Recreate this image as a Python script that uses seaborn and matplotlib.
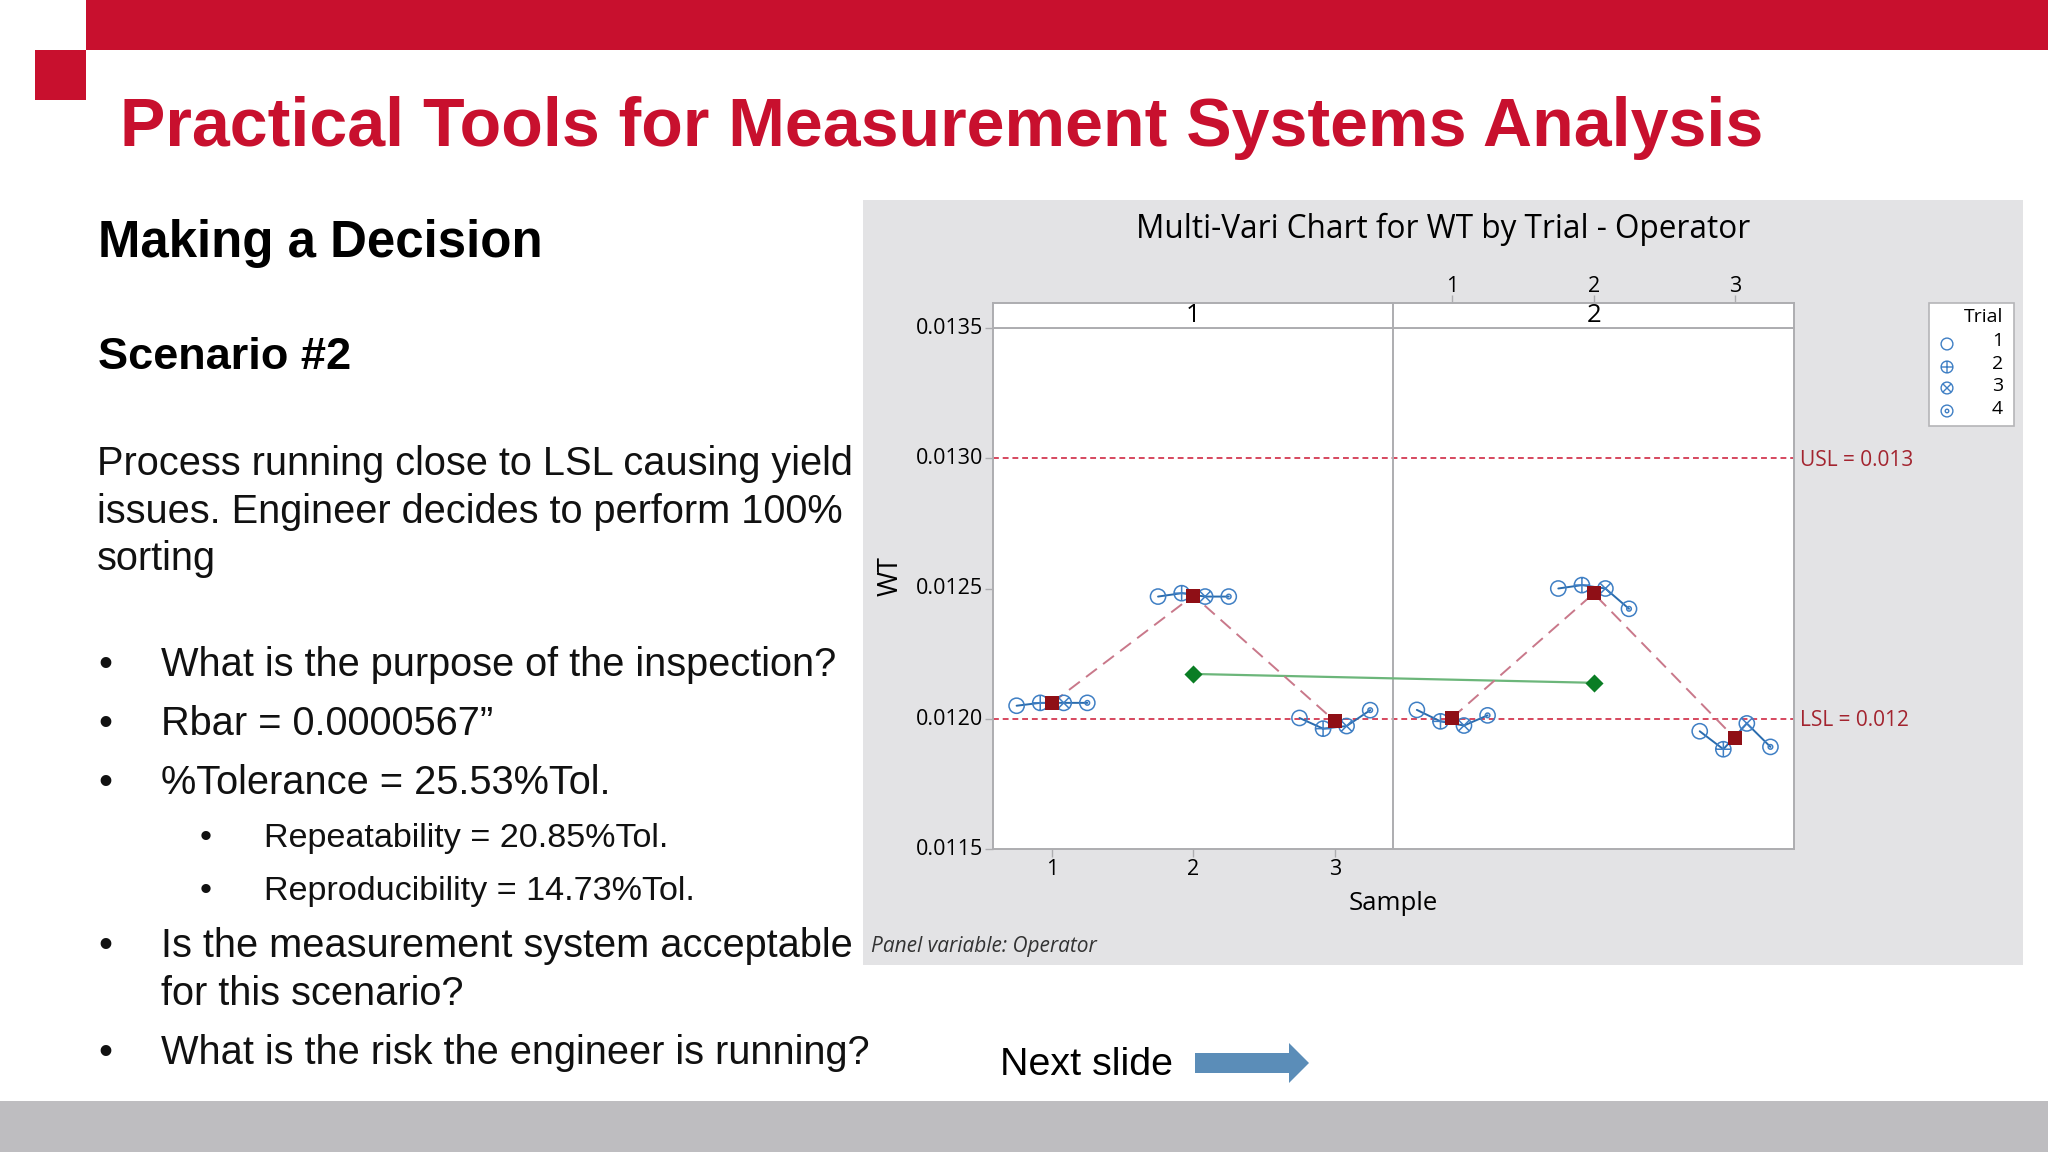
import numpy as np
import pandas as pd
import matplotlib
matplotlib.use("Agg")
import matplotlib.pyplot as plt
from matplotlib.patches import Rectangle, FancyArrow
from matplotlib.path import Path
from matplotlib.transforms import ScaledTranslation
import seaborn as sns

# ── Datos ─────────────────────────────────────────────────────────────────────
samples = [1, 2, 3]
trials = [1, 2, 3, 4]
operators = [1, 2]

# WT por operador -> muestra -> trial
op1_s1 = [0.012050, 0.012061, 0.012061, 0.012061]
op1_s2 = [0.012469, 0.012482, 0.012469, 0.012469]
op1_s3 = [0.012003, 0.011962, 0.011972, 0.012033]
op2_s1 = [0.012034, 0.011990, 0.011974, 0.012013]
op2_s2 = [0.012500, 0.012513, 0.012500, 0.012422]
op2_s3 = [0.011952, 0.011883, 0.011982, 0.011892]

op1_means = [0.012061, 0.012473, 0.011991]
op2_means = [0.012004, 0.012481, 0.011925]
operator_means = [0.012172, 0.012138]

usl = 0.013
lsl = 0.012
y_ticks = [0.0115, 0.0120, 0.0125, 0.0130, 0.0135]

# posiciones en el eje continuo
PANEL_GAP = 2.83
TRIAL_OFFSET = [-0.25, -0.083, 0.083, 0.25]
X_MIN, X_MAX = 0.581, 6.243

W, H = 2048, 1152
RED = "#c8102e"
BLUE = "#3f7fc4"
CHART_BG = "#e3e3e5"
EDGE = "#adadb0"
SPEC = "#d6475e"

sns.set_theme(style="white")
SLIDE_FONT = "Liberation Sans"
CHART_FONT = "Open Sans"
plt.rcParams["font.family"] = [SLIDE_FONT, "DejaVu Sans"]

# ── Tablas ────────────────────────────────────────────────────────────────────
rows = []
all_trials = [[op1_s1, op1_s2, op1_s3], [op2_s1, op2_s2, op2_s3]]
for o, op_vals in zip(operators, all_trials):
    for s, vals in zip(samples, op_vals):
        for t, off, v in zip(trials, TRIAL_OFFSET, vals):
            rows.append({"group": f"{o}-{s}", "Operator": o, "Sample": s, "Trial": t,
                         "pos": s + (o - 1) * PANEL_GAP + off, "WT": v})
df = pd.DataFrame(rows)

df_means = pd.DataFrame({
    "Operator": [1, 1, 1, 2, 2, 2],
    "pos": [s + (o - 1) * PANEL_GAP for o in operators for s in samples],
    "WT": op1_means + op2_means,
})
df_ops = pd.DataFrame({
    "pos": [2 + (o - 1) * PANEL_GAP for o in operators],
    "WT": operator_means,
})


# marcadores de Minitab: círculo con un símbolo dentro
def circle_with(verts=None, codes=None, inner=None):
    parts = [Path.unit_circle()]
    if verts is not None:
        parts.append(Path(verts, codes))
    if inner is not None:
        c = Path.unit_circle()
        parts.append(Path(c.vertices * inner, c.codes))
    return Path.make_compound_path(*parts)


cross_codes = [Path.MOVETO, Path.LINETO, Path.MOVETO, Path.LINETO]
trial_markers = {
    1: circle_with(),
    2: circle_with([[-1, 0], [1, 0], [0, -1], [0, 1]], cross_codes),
    3: circle_with([[-0.7, -0.7], [0.7, 0.7], [-0.7, 0.7], [0.7, -0.7]], cross_codes),
    4: circle_with(inner=0.3),
}

fig = plt.figure(figsize=(W / 100, H / 100), dpi=100, facecolor="white")


def px_axes(left, top, right, bottom, **kw):
    return fig.add_axes([left / W, 1 - bottom / H, (right - left) / W, (bottom - top) / H], **kw)


# ── Lámina ────────────────────────────────────────────────────────────────────
bg = px_axes(0, 0, W, H)
bg.set_xlim(0, W)
bg.set_ylim(H, 0)
bg.axis("off")
bg.add_patch(Rectangle((86, 0), W - 86, 50, color=RED, lw=0))
bg.add_patch(Rectangle((35, 50), 51, 50, color=RED, lw=0))
bg.add_patch(Rectangle((0, 1101), W, 51, color="#bebdc0", lw=0))
bg.add_patch(Rectangle((863, 200), 1160, 765, color=CHART_BG, lw=0))

bg.text(120, 146, "Practical Tools for Measurement Systems Analysis", color=RED,
        fontsize=49.1, fontweight="bold", va="baseline")
bg.text(98, 257, "Making a Decision", color="black", fontsize=36.7, fontweight="bold", va="baseline")
bg.text(98, 369, "Scenario #2", color="black", fontsize=32.5, fontweight="bold", va="baseline")

BODY = "#111111"
BODY_SIZE = 28.6
for txt, y in [("Process running close to LSL causing yield", 475),
               ("issues. Engineer decides to perform 100%", 523),
               ("sorting", 570)]:
    bg.text(97, y, txt, color=BODY, fontsize=BODY_SIZE, va="baseline")

for txt, y, bullet in [("What is the purpose of the inspection?", 676, True),
                       ("Rbar = 0.0000567”", 735, True),
                       ("%Tolerance = 25.53%Tol.", 794, True),
                       ("Is the measurement system acceptable", 957, True),
                       ("for this scenario?", 1005, False),
                       ("What is the risk the engineer is running?", 1064, True)]:
    if bullet:
        bg.text(98, y, "•", color=BODY, fontsize=BODY_SIZE, va="baseline")
    bg.text(161, y, txt, color=BODY, fontsize=BODY_SIZE, va="baseline")

for txt, y in [("Repeatability = 20.85%Tol.", 847), ("Reproducibility = 14.73%Tol.", 900)]:
    bg.text(200, y, "•", color=BODY, fontsize=24.6, va="baseline")
    bg.text(264, y, txt, color=BODY, fontsize=24.6, va="baseline")

bg.text(1000, 1075, "Next slide", color="black", fontsize=28.4, va="baseline")
bg.add_patch(FancyArrow(1195, 1063, 114, 0, width=20, head_width=40, head_length=20,
                        length_includes_head=True, color="#5b8db8", lw=0))

# textos del gráfico
chart_text = dict(family=CHART_FONT, color="#000000")
bg.text(1443, 229, "Multi-Vari Chart for WT by Trial - Operator", fontsize=22.7,
        ha="center", va="center", **chart_text)
bg.text(1393, 904, "Sample", fontsize=18.5, ha="center", va="center", **chart_text)
bg.text(891, 576, "WT", fontsize=19.5, rotation=90, ha="center", va="center", **chart_text)
bg.text(871, 952, "Panel variable: Operator", fontsize=15, style="italic", va="baseline",
        family=CHART_FONT, color="#333333")
bg.text(1800, 460, "USL = 0.013", fontsize=15, color="#a3242f", family=CHART_FONT, va="center")
bg.text(1800, 720, "LSL = 0.012", fontsize=15, color="#a3242f", family=CHART_FONT, va="center")

# leyenda
bg.add_patch(Rectangle((1929, 303), 85, 123, facecolor="white", edgecolor="#b5b5b8", lw=1.2))
bg.text(2003, 317, "Trial", fontsize=14, ha="right", va="center", **chart_text)
df_legend = pd.DataFrame({"Trial": trials, "y": [344, 367, 388, 411]})
df_legend["x"] = 1947
sns.scatterplot(data=df_legend, x="x", y="y", style="Trial", markers=trial_markers, s=72,
                color=BLUE, linewidth=1, legend=False, ax=bg, zorder=5)
bg.collections[-1].set_facecolor("none")
bg.collections[-1].set_edgecolor(BLUE)
for t, y in zip(df_legend["Trial"], [341, 364, 386, 409]):
    bg.text(2003, y, str(t), fontsize=14, ha="right", va="center", **chart_text)
bg.set_xlim(0, W)
bg.set_ylim(H, 0)
bg.set_xlabel("")
bg.set_ylabel("")

# ── Gráfico multi-vari ────────────────────────────────────────────────────────
ax = px_axes(992.7, 328, 1793.5, 849, facecolor="white")

ax.axhline(usl, color=SPEC, lw=1.4, ls=(0, (3, 2)), zorder=1)
ax.axhline(lsl, color=SPEC, lw=1.4, ls=(0, (3, 2)), zorder=1)
ax.axvline(1 + 2.413, color=EDGE, lw=1.4, zorder=1)

sns.lineplot(data=df_ops, x="pos", y="WT", color="#6cb67a", lw=1.6, ax=ax, zorder=2)
sns.lineplot(data=df_means, x="pos", y="WT", units="Operator", estimator=None, color="#c9788a",
             lw=1.4, ax=ax, zorder=2).lines[-1].set_dashes((7, 4))
ax.lines[-2].set_dashes((7, 4))
sns.lineplot(data=df, x="pos", y="WT", units="group", estimator=None, color="#2a6cae", lw=1.4,
             ax=ax, zorder=3)
sns.scatterplot(data=df, x="pos", y="WT", style="Trial", markers=trial_markers, s=120,
                color=BLUE, linewidth=1.1, legend=False, ax=ax, zorder=4)
ax.collections[-1].set_facecolor("none")
ax.collections[-1].set_edgecolor(BLUE)
sns.scatterplot(data=df_means, x="pos", y="WT", marker="s", s=100, color="#8f0f16", linewidth=0,
                legend=False, ax=ax, zorder=5)
sns.scatterplot(data=df_ops, x="pos", y="WT", marker="D", s=85, color="#0a7d24", linewidth=0,
                legend=False, ax=ax, zorder=5)

ax.set_xlim(X_MIN, X_MAX)
ax.set_ylim(0.0115, 0.0135)
ax.set_xticks(samples)
ax.set_xticklabels([str(s) for s in samples])
ax.set_yticks(y_ticks)
ax.set_yticklabels([f"{v:.4f}" for v in y_ticks])
ax.set_xlabel("")
ax.set_ylabel("")
ax.tick_params(axis="x", bottom=True, length=6, width=1, color=EDGE, pad=1,
               labelcolor="#000000", labelsize=15.5)
ax.tick_params(axis="y", left=True, length=6, width=1, color=EDGE, pad=1,
               labelcolor="#000000", labelsize=15.5)
up = ScaledTranslation(0, 2 / 100, fig.dpi_scale_trans)
for lab in ax.get_xticklabels() + ax.get_yticklabels():
    lab.set_family(CHART_FONT)
for lab in ax.get_yticklabels():
    lab.set_transform(lab.get_transform() + up)
for sp in ax.spines.values():
    sp.set_color(EDGE)
    sp.set_linewidth(1.4)

# franja superior con el número de operador
strip = px_axes(992.7, 303, 1793.5, 328, facecolor="white")
strip.set_xlim(X_MIN, X_MAX)
strip.set_ylim(0, 1)
strip.axvline(1 + 2.413, color=EDGE, lw=1.4)
for o in operators:
    strip.text(2 + (o - 1) * PANEL_GAP, 0.5, str(o), fontsize=18.5, ha="center", va="center",
               **chart_text)
strip.set_yticks([])
strip.set_xticks([s + PANEL_GAP for s in samples])
strip.set_xticklabels([str(s) for s in samples])
strip.tick_params(axis="x", top=True, bottom=False, labeltop=True, labelbottom=False, length=6,
                  width=1, color=EDGE, pad=-2, labelcolor="#000000", labelsize=15.5)
for lab in strip.get_xticklabels():
    lab.set_family(CHART_FONT)
for sp in strip.spines.values():
    sp.set_color(EDGE)
    sp.set_linewidth(1.4)

fig.savefig("out.png", dpi=100)
